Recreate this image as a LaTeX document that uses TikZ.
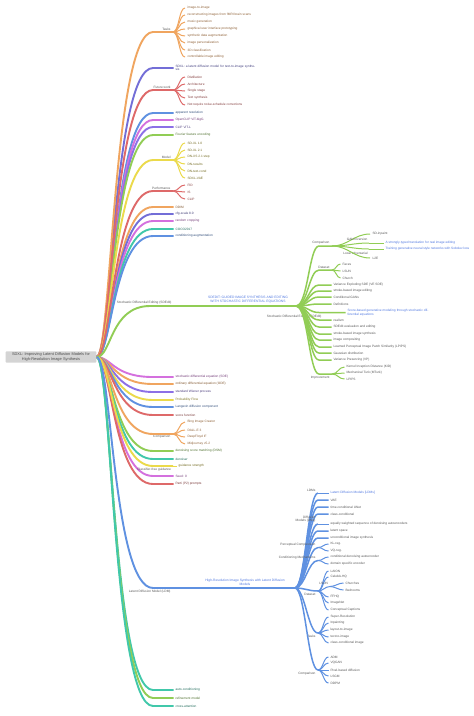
\documentclass[tikz,border=0pt]{standalone}
\usepackage{fontspec}
\setmainfont{Liberation Sans}
\usetikzlibrary{calc}
\definecolor{mOrange}{RGB}{240,165,95}
\definecolor{mPurple}{RGB}{115,110,215}
\definecolor{mRed}{RGB}{222,105,105}
\definecolor{mBlue}{RGB}{95,145,225}
\definecolor{mPink}{RGB}{212,112,222}
\definecolor{mViolet}{RGB}{140,112,230}
\definecolor{mGreen}{RGB}{145,205,85}
\definecolor{mYellow}{RGB}{235,218,75}
\definecolor{mTeal}{RGB}{65,200,170}
\definecolor{linkblue}{RGB}{80,120,225}

\begin{document}
\begin{tikzpicture}[x=1pt,y=-1pt,
    leaf/.style={anchor=west, inner sep=0.3pt, font=\fontsize{3.2}{3.7}\selectfont},
    lbl/.style={anchor=east, inner sep=0.3pt, font=\fontsize{3.2}{3.7}\selectfont, text=black!65},
    title/.style={inner sep=0.3pt, align=center, font=\fontsize{3.3}{4}\selectfont, text=linkblue},
    rootbox/.style={fill=black!17, rounded corners=0.8pt, text width=88pt, align=center, inner sep=1.4pt, font=\fontsize{3.9}{4.6}\selectfont, text=black!70},
    lvl1/.style={line width=1.9pt},
    lvl2/.style={line width=1.5pt},
    lvl3/.style={line width=1pt}
]
\useasboundingbox[fill=white] (0,0) rectangle (474,716);

\node[rootbox] (root) at (51,357) {SDXL: Improving Latent Diffusion Models for\\High-Resolution Image Synthesis};

% first level leaves
\foreach \y/\col/\txt [count=\i] in {113/mBlue/apparent resolution, 120/mPink/OpenCLIP ViT-bigG, 127/mViolet/CLIP ViT-L, 135/mGreen/Fourier feature encoding, 207/mOrange/DDIM, 214/mPurple/cfg-scale 8.0, 221/mPink/random cropping, 229/mTeal/COCO2017, 236/mBlue/conditioning augmentation, 377/mPink/stochastic differential equation (SDE), 384/mOrange/ordinary differential equation (ODE), 392/mViolet/standard Wiener process, 400/mYellow/Probability Flow, 407/mBlue/Langevin diffusion component, 415/mRed/score function, 451/mGreen/denoising score matching (DSM), 459/mTeal/denoiser, 476/mPink/Seed: 0, 484/mRed/Parti (P2) prompts, 690/mTeal/auto-conditioning, 698/mGreen/refinement model, 706/mTeal/cross-attention}{
    \node[leaf, text=\col!55!black] (top\i) at (175,\y) {\txt};
    \draw[lvl1, draw=\col] (root.east) .. controls +(15,0) and +(-40,0) .. ($(top\i.west)+(-22,0)$) -- ($(top\i.west)+(-1.5,0)$);
}

\node[leaf, text=mPurple!60!black, text width=80pt, align=left] (sdxl) at (175,68) {SDXL: a latent diffusion model for text-to-image synthesis};
\draw[lvl1, draw=mPurple] (root.east) .. controls +(15,0) and +(-40,0) .. ($(sdxl.west)+(-22,0)$) -- ($(sdxl.west)+(-1.5,0)$);

% Tasks
\coordinate (tasks) at (173,32);
\node[lbl] (tasks-l) at (171,29.5) {Tasks};
\draw[lvl1, draw=mOrange] (root.east) .. controls +(15,0) and +(-40,0) .. ($(tasks)+(-20,0)$) -- (tasks);
\foreach \y/\txt [count=\i] in {8/image-to-image, 15/reconstructing images from fMRI brain scans, 22/music generation, 29/graphical user interface prototyping, 36/synthetic data augmentation, 43/image personalization, 50/3D classification, 57/controllable image editing}{
    \node[leaf, text=mOrange!60!black] (tasks\i) at (187,\y) {\txt};
    \draw[lvl3, draw=mOrange] (tasks) .. controls +(6,0) and +(-6,0) .. ($(tasks\i.west)+(-2,0)$);
}

% Future work
\coordinate (fut) at (173,90);
\node[lbl] (fut-l) at (171,87.5) {Future work};
\draw[lvl1, draw=mRed] (root.east) .. controls +(15,0) and +(-40,0) .. ($(fut)+(-20,0)$) -- (fut);
\foreach \y/\txt [count=\i] in {77/Distillation, 84/Architecture, 91/Single stage, 98/Text synthesis, 105/Not require noise-schedule corrections}{
    \node[leaf, text=mRed!60!black] (fut\i) at (187,\y) {\txt};
    \draw[lvl3, draw=mRed] (fut) .. controls +(6,0) and +(-6,0) .. ($(fut\i.west)+(-2,0)$);
}

% Model
\coordinate (model) at (173,160);
\node[lbl] (model-l) at (171,157.5) {Model};
\draw[lvl1, draw=mYellow] (root.east) .. controls +(15,0) and +(-40,0) .. ($(model)+(-20,0)$) -- (model);
\foreach \y/\txt [count=\i] in {143/SD-XL 1.0, 150/SD-XL 2.1, 157/DN-XS 2.1 step, 164/DN-results, 171/DN-text-cond, 178/SDXL-VAE}{
    \node[leaf, text=mYellow!50!black] (model\i) at (187,\y) {\txt};
    \draw[lvl3, draw=mYellow] (model) .. controls +(6,0) and +(-6,0) .. ($(model\i.west)+(-2,0)$);
}

% Performance
\coordinate (perf) at (173,191);
\node[lbl] (perf-l) at (171,188.5) {Performance};
\draw[lvl1, draw=mRed] (root.east) .. controls +(15,0) and +(-40,0) .. ($(perf)+(-20,0)$) -- (perf);
\foreach \y/\txt [count=\i] in {185/FID, 192/IS, 199/CLIP}{
    \node[leaf, text=mRed!60!black] (perf\i) at (187,\y) {\txt};
    \draw[lvl3, draw=mRed] (perf) .. controls +(6,0) and +(-6,0) .. ($(perf\i.west)+(-2,0)$);
}

% Comparison
\coordinate (comp) at (173,434);
\node[lbl] (comp-l) at (171,436.5) {Comparison};
\draw[lvl1, draw=mOrange] (root.east) .. controls +(15,0) and +(-40,0) .. ($(comp)+(-20,0)$) -- (comp);
\foreach \y/\txt [count=\i] in {422/Bing Image Creator, 430/DALL-E 3, 437/DeepFloyd IF, 444/Midjourney v5.2}{
    \node[leaf, text=mOrange!60!black] (comp\i) at (187,\y) {\txt};
    \draw[lvl3, draw=mOrange] (comp) .. controls +(6,0) and +(-6,0) .. ($(comp\i.west)+(-2,0)$);
}

% Classifier-free guidance
\coordinate (cfg) at (173,466);
\node[lbl, anchor=north east] (cfg-l) at (171.5,468) {Classifier-free guidance};
\draw[lvl1, draw=mYellow] (root.east) .. controls +(15,0) and +(-40,0) .. ($(cfg)+(-20,0)$) -- (cfg);
\node[leaf, text=mYellow!50!black] (cfg1) at (178,466) {guidance strength};
\draw[lvl3, draw=mYellow] (cfg) -- ($(cfg1.west)+(-1,0)$);

% SDEdit
\coordinate (sde) at (173,306);
\coordinate (sdef) at (296,306);
\node[lbl] (sde-l) at (172,302.5) {Stochastic Differential Editing (SDEdit)};
\node[title] (sdet) at (248,299.5) {SDEDIT: GUIDED IMAGE SYNTHESIS AND EDITING\\WITH STOCHASTIC DIFFERENTIAL EQUATIONS};
\draw[lvl1, draw=mGreen] (root.east) .. controls +(15,0) and +(-40,0) .. ($(sde)+(-23,0)$) -- (sde) -- (sdef);
\node[lbl] (sde-l2) at (322,316.5) {Stochastic Differential Editing (SDEdit)};
\foreach \y/\txt [count=\i] in {285/Variance Exploding SDE (VE SDE), 291/stroke-based image editing, 297/Conditional GANs, 304/Definitions, 320/realism, 327/SDEdit evaluation and editing, 334/stroke-based image synthesis, 340/image compositing, 347/Learned Perceptual Image Patch Similarity (LPIPS), 353/Gaussian distribution, 360/Variance Preserving (VP)}{
    \node[leaf, text=black!65] (sd\i) at (333,\y) {\txt};
    \draw[lvl2, draw=mGreen] (sdef) .. controls +(12,0) and +(-10,0) .. ($(sd\i.west)+(-14,0)$) -- ($(sd\i.west)+(-1.5,0)$);
}
\node[leaf, text=linkblue, text width=82pt, align=left] (sdp) at (347,312.5) {Score-based generative modeling through stochastic differential equations};
\draw[lvl2, draw=mGreen] (sdef) .. controls +(12,0) and +(-10,0) .. ($(sdp.west)+(-28,0)$) -- ($(sdp.west)+(-1.5,0)$);

\coordinate (sdcmp) at (332,246);
\node[lbl] (sdcmp-l) at (330,243) {Comparison};
\draw[lvl2, draw=mGreen] (sdef) .. controls +(12,0) and +(-10,0) .. ($(sdcmp)+(-13,0)$) -- (sdcmp);
\node[leaf, text=black!65] (sdc1) at (372,234) {SD-inpaint};
\draw[lvl3, draw=mGreen] (sdcmp) .. controls +(16,0) and +(-16,0) .. ($(sdc1.west)+(-2,0)$);
\coordinate (sdc2) at (369,243);
\node[lbl] (sdc2-l) at (368,239.5) {GAN inversion};
\draw[lvl3, draw=mGreen] (sdcmp) .. controls +(16,0) and +(-16,0) .. (sdc2);
\node[leaf, text=linkblue] (sdc2a) at (385,243) {A strongly-typed translation for real image editing};
\draw[lvl3, draw=mGreen] (sdc2) -- ($(sdc2a.west)+(-1.5,0)$);
\coordinate (sdc3) at (369,249);
\node[lbl, anchor=north east] (sdc3-l) at (368,251.5) {Local adversarial};
\draw[lvl3, draw=mGreen] (sdcmp) .. controls +(16,0) and +(-16,0) .. (sdc3);
\node[leaf, text=linkblue] (sdc3a) at (385,249) {Training generative neural style networks with Sobolev loss};
\draw[lvl3, draw=mGreen] (sdc3) -- ($(sdc3a.west)+(-1.5,0)$);
\node[leaf, text=black!65] (sdc4) at (372,258) {L2E};
\draw[lvl3, draw=mGreen] (sdcmp) .. controls +(16,0) and +(-16,0) .. ($(sdc4.west)+(-2,0)$);

\coordinate (sdds) at (332,270);
\node[lbl] (sdds-l) at (330,267.5) {Dataset};
\draw[lvl2, draw=mGreen] (sdef) .. controls +(12,0) and +(-10,0) .. ($(sdds)+(-13,0)$) -- (sdds);
\foreach \y/\txt [count=\i] in {264/Faces, 271/LSUN, 278/Church}{
    \node[leaf, text=black!65] (sdds\i) at (342,\y) {\txt};
    \draw[lvl3, draw=mGreen] (sdds) .. controls +(4,0) and +(-4,0) .. ($(sdds\i.west)+(-1.5,0)$);
}

\coordinate (sdimp) at (332,374);
\node[lbl, anchor=north east] (sdimp-l) at (330,375.3) {Improvement};
\draw[lvl2, draw=mGreen] (sdef) .. controls +(12,0) and +(-10,0) .. ($(sdimp)+(-13,0)$) -- (sdimp);
\foreach \y/\txt [count=\i] in {367/Kernel Inception Distance (KID), 373/Mechanical Turk (MTurk), 379/LPIPS}{
    \node[leaf, text=black!65] (sdimp\i) at (346,\y) {\txt};
    \draw[lvl3, draw=mGreen] (sdimp) .. controls +(6,0) and +(-6,0) .. ($(sdimp\i.west)+(-1.5,0)$);
}

% Latent Diffusion Model
\coordinate (ldm) at (173,588);
\coordinate (ldmf) at (295,588);
\node[lbl, anchor=north east] (ldm-l) at (171,589.5) {Latent Diffusion Model (LDM)};
\node[title] (ldmt) at (245,582) {High-Resolution Image Synthesis with Latent Diffusion\\Models};
\draw[lvl1, draw=mBlue] (root.east) .. controls +(15,0) and +(-40,0) .. ($(ldm)+(-20,0)$) -- (ldm) -- (ldmf);
\foreach \y/\txt [count=\i] in {500/VAE, 507/time-conditional UNet, 514/class-conditional, 531/latent space, 538/unconditional image synthesis}{
    \node[leaf, text=black!65] (ld\i) at (330,\y) {\txt};
    \draw[lvl2, draw=mBlue] (ldmf) .. controls +(10,0) and +(-10,0) .. ($(ld\i.west)+(-12,0)$) -- ($(ld\i.west)+(-1.5,0)$);
}

\coordinate (ldA) at (318,493);
\node[lbl] (ldA-l) at (316,490) {LDMs};
\draw[lvl2, draw=mBlue] (ldmf) .. controls +(10,0) and +(-10,0) .. (ldA);
\node[leaf, text=linkblue] (ldA1) at (330,493) {Latent Diffusion Models [LDMs]};
\draw[lvl3, draw=mBlue] (ldA) -- ($(ldA1.west)+(-1.5,0)$);

\coordinate (ldB) at (318,524);
\node[lbl, anchor=south east, align=right] (ldB-l) at (316,523) {Diffusion\\Models (DMs)};
\draw[lvl2, draw=mBlue] (ldmf) .. controls +(10,0) and +(-10,0) .. (ldB);
\node[leaf, text=black!65] (ldB1) at (330,524) {equally weighted sequence of denoising autoencoders};
\draw[lvl3, draw=mBlue] (ldB) -- ($(ldB1.west)+(-1.5,0)$);

\coordinate (ldC) at (318,547.5);
\node[lbl] (ldC-l) at (316,544.5) {Perceptual Compression};
\draw[lvl2, draw=mBlue] (ldmf) .. controls +(10,0) and +(-10,0) .. (ldC);
\foreach \y/\txt [count=\i] in {544/KL-reg., 551/VQ-reg.}{
    \node[leaf, text=black!65] (ldC\i) at (330,\y) {\txt};
    \draw[lvl3, draw=mBlue] (ldC) .. controls +(5,0) and +(-5,0) .. ($(ldC\i.west)+(-1.5,0)$);
}

\coordinate (ldD) at (318,560.5);
\node[lbl] (ldD-l) at (316,557.5) {Conditioning Mechanisms};
\draw[lvl2, draw=mBlue] (ldmf) .. controls +(10,0) and +(-10,0) .. (ldD);
\foreach \y/\txt [count=\i] in {557/conditional denoising autoencoder, 564/domain specific encoder}{
    \node[leaf, text=black!65] (ldD\i) at (330,\y) {\txt};
    \draw[lvl3, draw=mBlue] (ldD) .. controls +(5,0) and +(-5,0) .. ($(ldD\i.west)+(-1.5,0)$);
}

\coordinate (ldE) at (318,591);
\node[lbl, anchor=north east] (ldE-l) at (316,592.3) {Dataset};
\draw[lvl2, draw=mBlue] (ldmf) .. controls +(10,0) and +(-10,0) .. (ldE);
\foreach \y/\txt [count=\i] in {571/LAION, 577/CelebA-HQ, 597/FFHQ, 603/ImageNet, 610/Conceptual Captions}{
    \node[leaf, text=black!65] (ldE\i) at (330,\y) {\txt};
    \draw[lvl3, draw=mBlue] (ldE) .. controls +(5,0) and +(-5,0) .. ($(ldE\i.west)+(-1.5,0)$);
}
\coordinate (lsun) at (330,586.5);
\node[lbl] (lsun-l) at (328.5,583.8) {LSUN};
\draw[lvl3, draw=mBlue] (ldE) .. controls +(5,0) and +(-5,0) .. (lsun);
\foreach \y/\txt [count=\i] in {583/Churches, 590/Bedrooms}{
    \node[leaf, text=black!65] (lsun\i) at (345,\y) {\txt};
    \draw[lvl3, draw=mBlue] (lsun) .. controls +(5,0) and +(-5,0) .. ($(lsun\i.west)+(-1.5,0)$);
}

\coordinate (ldF) at (318,633);
\node[lbl, anchor=north east] (ldF-l) at (316,634.5) {Tasks};
\draw[lvl2, draw=mBlue] (ldmf) .. controls +(10,0) and +(-10,0) .. (ldF);
\foreach \y/\txt [count=\i] in {617/Super-Resolution, 623/Inpainting, 630/layout-to-image, 637/text-to-image, 643/class-conditional image}{
    \node[leaf, text=black!65] (ldF\i) at (330,\y) {\txt};
    \draw[lvl3, draw=mBlue] (ldF) .. controls +(5,0) and +(-5,0) .. ($(ldF\i.west)+(-1.5,0)$);
}

\coordinate (ldG) at (318,670);
\node[lbl, anchor=north east] (ldG-l) at (316,671.5) {Comparison};
\draw[lvl2, draw=mBlue] (ldmf) .. controls +(10,0) and +(-10,0) .. (ldG);
\foreach \y/\txt [count=\i] in {657/ADM, 663/VQGAN, 670/Pixel-based diffusion, 676/LSGM, 683/DDPM}{
    \node[leaf, text=black!65] (ldG\i) at (330,\y) {\txt};
    \draw[lvl3, draw=mBlue] (ldG) .. controls +(5,0) and +(-5,0) .. ($(ldG\i.west)+(-1.5,0)$);
}
\end{tikzpicture}
\end{document}
